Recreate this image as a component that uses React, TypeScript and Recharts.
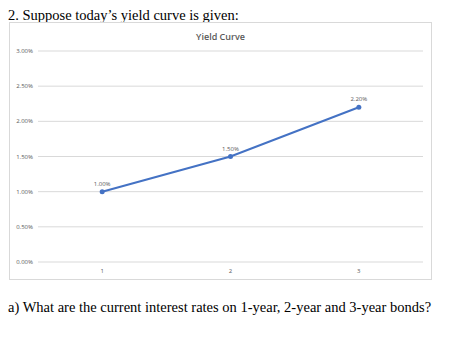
import React from 'react';
import { LineChart, Line, XAxis, YAxis, CartesianGrid, LabelList } from 'recharts';

const maturities = ['1', '2', '3'];
const yields = [1.0, 1.5, 2.2];
const yTicks = [0, 0.5, 1.0, 1.5, 2.0, 2.5, 3.0];

const data = maturities.map((m, i) => ({ year: m, rate: yields[i] }));

const pct = (v: number) => `${v.toFixed(2)}%`;
const small = { fill: '#595959', fontSize: 6, fontFamily: '"Open Sans", sans-serif' };

export default function App() {
  return (
    <div>
      <div
        style={{
          position: 'absolute',
          left: 8,
          top: 7,
          fontFamily: '"Liberation Serif", serif',
          fontSize: 14.5,
          color: '#000',
          whiteSpace: 'nowrap',
        }}
      >
        2. Suppose today’s yield curve is given:
      </div>

      <div
        style={{
          position: 'absolute',
          left: 9,
          top: 22,
          width: 423,
          height: 258,
          border: '1px solid #d9d9d9',
          boxSizing: 'border-box',
          background: '#fff',
        }}
      >
        <div
          style={{
            position: 'absolute',
            left: 0,
            right: 0,
            top: 7,
            textAlign: 'center',
            fontFamily: '"Open Sans", sans-serif',
            fontWeight: 600,
            fontSize: 9,
            color: '#595959',
          }}
        >
          Yield Curve
        </div>
        <LineChart
          width={421}
          height={256}
          data={data}
          margin={{ top: 28, right: 8, left: 0, bottom: 0 }}
        >
          <CartesianGrid vertical={false} stroke="#d9d9d9" strokeWidth={1} />
          <XAxis
            dataKey="year"
            scale="band"
            axisLine={false}
            tickLine={false}
            tickSize={6}
            tickMargin={1}
            height={17}
            tick={small}
          />
          <YAxis
            domain={[0, 3]}
            ticks={yTicks}
            axisLine={false}
            tickLine={false}
            tickSize={5}
            tickMargin={0}
            width={28}
            tick={small}
            tickFormatter={pct}
            interval={0}
          />
          <Line
            type="linear"
            dataKey="rate"
            stroke="#4472C4"
            strokeWidth={2}
            dot={{ r: 2.5, fill: '#4472C4', stroke: '#4472C4', strokeWidth: 0 }}
            isAnimationActive={false}
          >
            <LabelList dataKey="rate" position="top" offset={6} formatter={pct} style={small} />
          </Line>
        </LineChart>
      </div>

      <div
        style={{
          position: 'absolute',
          left: 8,
          top: 299,
          fontFamily: '"Liberation Serif", serif',
          fontSize: 14.5,
          color: '#000',
          whiteSpace: 'nowrap',
        }}
      >
        a) What are the current interest rates on 1-year, 2-year and 3-year bonds?
      </div>
    </div>
  );
}
